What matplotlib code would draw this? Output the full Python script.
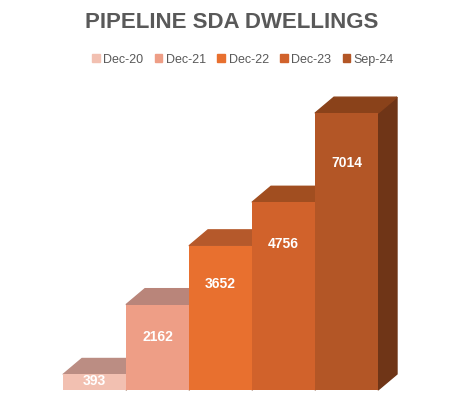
import numpy as np
import matplotlib
matplotlib.use("Agg")
import matplotlib.pyplot as plt
from matplotlib.patches import Polygon

periods = ["Dec-20", "Dec-21", "Dec-22", "Dec-23", "Sep-24"]
dwellings = [393, 2162, 3652, 4756, 7014]

front_colors = ["#f2c0b1", "#ee9e86", "#e8702f", "#d1622b", "#b35626"]
top_colors = ["#bb8d83", "#b9857a", "#b5592b", "#a14e20", "#8a421a"]
side_color = "#6f3517"

fig = plt.figure(figsize=(4.63, 4.02), dpi=100)
ax = fig.add_axes([63 / 463, 11 / 402, 315 / 463, 296 / 402])
ax.set_xlim(-0.5, 4.5)
ax.set_ylim(0, 7500)
ax.axis("off")

# depth of the fake 3d box in data units
dx = 19 / 63
dy = 16 * 7500 / 296

x = np.arange(len(dwellings))
bars = ax.bar(x, dwellings, width=1.0, color=front_colors, zorder=3)

for i, b in enumerate(bars):
    x0 = b.get_x()
    x1 = x0 + b.get_width()
    h = b.get_height()
    top = Polygon([(x0, h), (x1, h), (x1 + dx, h + dy), (x0 + dx, h + dy)],
                  closed=True, color=top_colors[i], zorder=2, clip_on=False)
    ax.add_patch(top)
    side = Polygon([(x1, 0), (x1, h), (x1 + dx, h + dy), (x1 + dx, dy)],
                   closed=True, color=side_color, zorder=1, clip_on=False)
    ax.add_patch(side)

    if h < 1000:
        ly = h / 2 + 50
    else:
        ly = h - 600 - h * 0.09
    ax.text(x[i], ly, str(dwellings[i]), ha="center", va="center",
            color="white", fontsize=10, fontweight="bold",
            family="Liberation Sans", zorder=5)

fig.text(0.5, 0.945, "PIPELINE SDA DWELLINGS", ha="center", va="center",
         fontsize=16, fontweight="bold", color="#595959", family="Liberation Sans")

handles = [plt.Rectangle((0, 0), 1, 1, color=c) for c in front_colors]
fig.legend(handles, periods, loc="center", bbox_to_anchor=(0.525, 0.85), ncol=5,
           frameon=False, prop={"family": "Liberation Sans", "size": 9},
           handlelength=0.6, handleheight=0.6,
           handletextpad=0.3, columnspacing=0.9, labelcolor="#595959")

fig.savefig("out.png", dpi=100, facecolor="white")
